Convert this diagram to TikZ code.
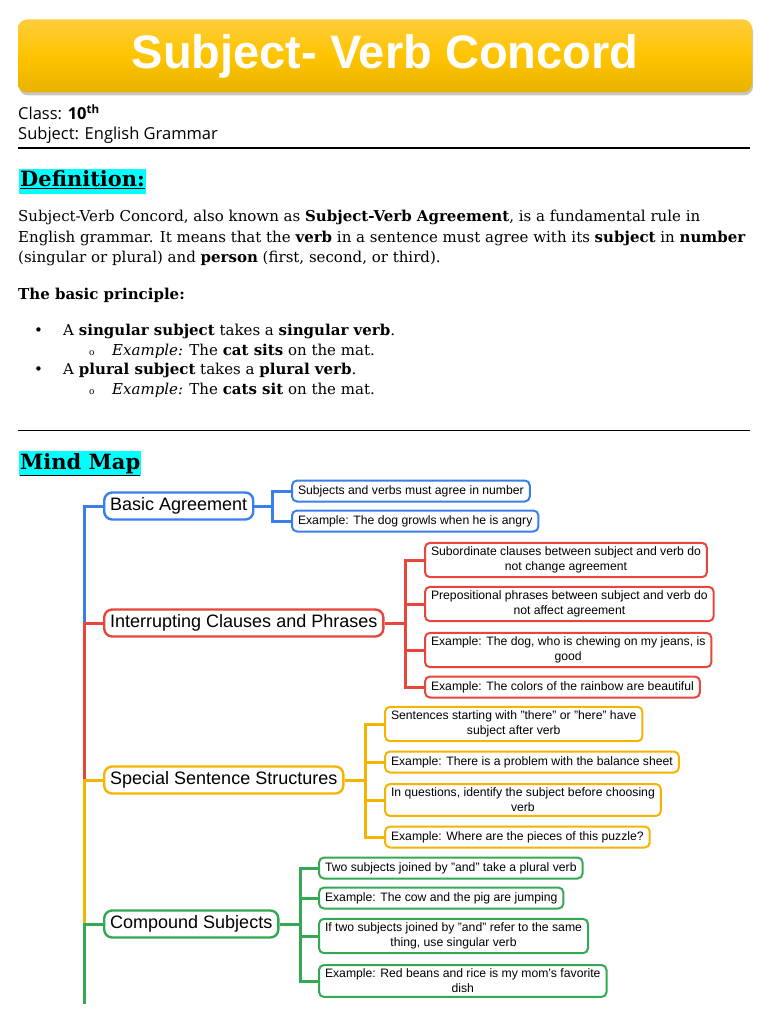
\documentclass[tikz,border=0pt]{standalone}
\usepackage{fontspec}
\setmainfont{DejaVu Serif}
\setsansfont{Liberation Sans}
\newfontfamily\infofont{Open Sans}
\usetikzlibrary{shadows}

\definecolor{titletop}{HTML}{FFCD3C}
\definecolor{titlemid}{HTML}{FFC400}
\definecolor{titlebot}{HTML}{E8B200}
\definecolor{headcyan}{HTML}{00FFFF}
\definecolor{mapblue}{HTML}{3A7EEB}
\definecolor{mapred}{HTML}{E8453C}
\definecolor{maporange}{HTML}{F5B400}
\definecolor{mapgreen}{HTML}{34A853}

\tikzset{
  titlebox/.style={minimum width=734pt, minimum height=73pt, rounded corners=9pt,
    top color=titletop, bottom color=titlebot, middle color=titlemid,
    drop shadow={shadow xshift=1pt, shadow yshift=-3pt, opacity=0.45},
    text=white, font=\sffamily\bfseries\fontsize{47}{50}\selectfont},
  infoline/.style={anchor=base west, inner sep=0pt, font=\infofont\fontsize{16.5}{19}\selectfont},
  heading/.style={anchor=base west, fill=headcyan, inner xsep=1pt, inner ysep=0pt,
    text height=18pt, text depth=7pt, font=\bfseries\fontsize{21}{23}\selectfont},
  bodyline/.style={anchor=base west, inner sep=0pt, font=\fontsize{15}{20}\selectfont},
  mainnode/.style={draw=#1, line width=2.4pt, rounded corners=8pt, fill=white, anchor=west,
    minimum height=27pt, inner xsep=6pt, font=\sffamily\fontsize{18}{20}\selectfont},
  leafnode/.style={draw=#1, line width=2pt, rounded corners=5pt, fill=white, anchor=west,
    align=center, minimum height=21pt, inner xsep=6pt, inner ysep=4pt,
    font=\sffamily\fontsize{12.2}{15}\selectfont},
  branch/.style={draw=#1, line width=3pt},
}

\begin{document}
\begin{tikzpicture}[x=1pt, y=-1pt]
  \useasboundingbox (0,0) rectangle (768,1024);

  % title and header
  \node[titlebox] (title) at (385,56) {\raisebox{-3pt}{Subject- Verb Concord}};
  \node[infoline] (cls) at (18,120) {Class: \textbf{10\textsuperscript{th}}};
  \node[infoline] (subj) at (18,140) {Subject: English Grammar};
  \draw[line width=1.6pt] (18,148) -- (750,148);

  % definition
  \node[heading] (defh) at (19,187) {\underline{Definition:}};
  \node[bodyline] (d1) at (18,222) {Subject-Verb Concord, also known as \textbf{Subject-Verb Agreement}, is a fundamental rule in};
  \node[bodyline] (d2) at (18,242) {English grammar. It means that the \textbf{verb} in a sentence must agree with its \textbf{subject} in \textbf{number}};
  \node[bodyline] (d3) at (18,262) {(singular or plural) and \textbf{person} (first, second, or third).};
  \node[bodyline] (bp) at (18,299) {\textbf{The basic principle:}};
  \node[bodyline] (b1) at (34,335) {\textbullet};
  \node[bodyline] (t1) at (63,335) {A \textbf{singular subject} takes a \textbf{singular verb}.};
  \node[bodyline, font=\fontsize{9}{10}\selectfont] (b2) at (89,355) {o};
  \node[bodyline] (t2) at (112,355) {\textit{Example:} The \textbf{cat sits} on the mat.};
  \node[bodyline] (b3) at (34,374) {\textbullet};
  \node[bodyline] (t3) at (63,374) {A \textbf{plural subject} takes a \textbf{plural verb}.};
  \node[bodyline, font=\fontsize{9}{10}\selectfont] (b4) at (89,394) {o};
  \node[bodyline] (t4) at (112,394) {\textit{Example:} The \textbf{cats sit} on the mat.};
  \draw[line width=1pt] (18,430) -- (750,430);

  % mind map
  \node[heading] (mmh) at (19,469) {\underline{Mind Map}};

  \node[mainnode=mapblue] (ba) at (103,506) {Basic Agreement};
  \node[leafnode=mapblue] (ba1) at (291,491) {Subjects and verbs must agree in number};
  \node[leafnode=mapblue] (ba2) at (291,521) {Example: The dog growls when he is angry};

  \node[mainnode=mapred] (ic) at (103,623) {Interrupting Clauses and Phrases};
  \node[leafnode=mapred] (ic1) at (424,560) {Subordinate clauses between subject and verb do\\not change agreement};
  \node[leafnode=mapred] (ic2) at (424,604) {Prepositional phrases between subject and verb do\\not affect agreement};
  \node[leafnode=mapred] (ic3) at (424,650) {Example: The dog, who is chewing on my jeans, is\\good};
  \node[leafnode=mapred] (ic4) at (424,687) {Example: The colors of the rainbow are beautiful};

  \node[mainnode=maporange] (ss) at (103,780) {Special Sentence Structures};
  \node[leafnode=maporange] (ss1) at (384,724) {Sentences starting with "there" or "here" have\\subject after verb};
  \node[leafnode=maporange] (ss2) at (384,762) {Example: There is a problem with the balance sheet};
  \node[leafnode=maporange] (ss3) at (384,800) {In questions, identify the subject before choosing\\verb};
  \node[leafnode=maporange] (ss4) at (384,837) {Example: Where are the pieces of this puzzle?};

  \node[mainnode=mapgreen] (cs) at (103,924) {Compound Subjects};
  \node[leafnode=mapgreen] (cs1) at (318,868) {Two subjects joined by "and" take a plural verb};
  \node[leafnode=mapgreen] (cs2) at (318,898) {Example: The cow and the pig are jumping};
  \node[leafnode=mapgreen] (cs3) at (318,936) {If two subjects joined by "and" refer to the same\\thing, use singular verb};
  \node[leafnode=mapgreen] (cs4) at (318,981) {Example: Red beans and rice is my mom's favorite\\dish};

  % spine
  \coordinate (sp1) at (84,623);
  \coordinate (sp2) at (84,780);
  \coordinate (sp3) at (84,924);
  \coordinate (spend) at (84,1004);
  \draw[branch=mapblue] (ba.west) -| (sp1);
  \draw[branch=mapred] (ic.west) -- (sp1) -- (sp2);
  \draw[branch=maporange] (ss.west) -- (sp2) -- (sp3);
  \draw[branch=mapgreen] (cs.west) -- (sp3) -- (spend);

  % branches to leaves
  \coordinate (bat) at (272,506);
  \coordinate (ict) at (405,623);
  \coordinate (sst) at (365,780);
  \coordinate (cst) at (300,924);
  \draw[branch=mapblue] (ba.east) -- (bat);
  \foreach \c in {ba1,ba2} \draw[branch=mapblue] (bat) |- (\c.west);
  \draw[branch=mapred] (ic.east) -- (ict);
  \foreach \c in {ic1,ic2,ic3,ic4} \draw[branch=mapred] (ict) |- (\c.west);
  \draw[branch=maporange] (ss.east) -- (sst);
  \foreach \c in {ss1,ss2,ss3,ss4} \draw[branch=maporange] (sst) |- (\c.west);
  \draw[branch=mapgreen] (cs.east) -- (cst);
  \foreach \c in {cs1,cs2,cs3,cs4} \draw[branch=mapgreen] (cst) |- (\c.west);
\end{tikzpicture}
\end{document}
